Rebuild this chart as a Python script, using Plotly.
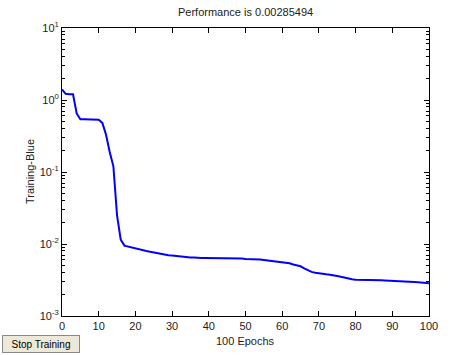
import plotly.graph_objects as go

epochs = list(range(0, 101))
performance = [
    1.40, 1.22, 1.20, 1.20, 0.65, 0.54, 0.54, 0.54, 0.54, 0.54,
    0.53, 0.48, 0.33, 0.19, 0.12, 0.025, 0.0115, 0.0095, 0.0092, 0.0089,
    0.0086, 0.0084, 0.0082, 0.0080, 0.0078, 0.0076, 0.0075, 0.0073, 0.0071, 0.0070,
    0.0069, 0.0068, 0.0067, 0.0066, 0.0066, 0.0065, 0.0065, 0.0064, 0.0064, 0.0064,
    0.0064, 0.0063, 0.0063, 0.0063, 0.0063, 0.0063, 0.0063, 0.0063, 0.0063, 0.0063,
    0.0062, 0.0062, 0.0061, 0.0061, 0.0061, 0.0060, 0.0059, 0.0058, 0.0058, 0.0057,
    0.0056, 0.0055, 0.0054, 0.0052, 0.0051, 0.0049, 0.0046, 0.0043, 0.0041, 0.0040,
    0.0039, 0.00385, 0.0038, 0.00375, 0.0037, 0.0036, 0.0035, 0.0034, 0.0033, 0.00325,
    0.0032, 0.0032, 0.00318, 0.00316, 0.00315, 0.00315, 0.00314, 0.00313, 0.00312, 0.00311,
    0.0031, 0.00308, 0.00305, 0.00302, 0.003, 0.003, 0.00297, 0.00294, 0.0029, 0.00288,
    0.00285,
]

x_ticks = [0, 10, 20, 30, 40, 50, 60, 70, 80, 90, 100]
y_ticks = [1e-3, 1e-2, 1e-1, 1, 10]
y_tick_text = ["10<sup>-3</sup>", "10<sup>-2</sup>", "10<sup>-1</sup>", "10<sup>0</sup>", "10<sup>1</sup>"]
y_minor = [m * 10 ** e for e in (-3, -2, -1, 0) for m in range(2, 10)]

title_text = "Performance is 0.00285494"
x_label = "100 Epochs"
y_label = "Training-Blue"
button_text = "Stop Training"

font = "Liberation Sans, Arial, sans-serif"

fig = go.Figure()
fig.add_trace(go.Scatter(x=epochs, y=performance, mode="lines",
                         line=dict(color="#0000ff", width=2), showlegend=False))

fig.update_layout(
    width=474, height=355,
    margin=dict(l=62, r=45, t=28, b=39),
    paper_bgcolor="white", plot_bgcolor="white",
    font=dict(family=font, size=11, color="#222"),
    xaxis=dict(range=[0, 100], tickmode="array", tickvals=x_ticks,
               ticks="inside", ticklen=5, tickcolor="black", tickwidth=1,
               showline=True, linecolor="black", linewidth=1, mirror="ticks",
               showgrid=False, zeroline=False, tickfont=dict(size=11, family=font)),
    yaxis=dict(type="log", range=[-3, 1], tickmode="array", tickvals=y_ticks,
               ticktext=y_tick_text,
               ticks="inside", ticklen=5, tickcolor="black", tickwidth=1,
               minor=dict(tickmode="array", tickvals=y_minor, ticks="inside",
                          ticklen=3, tickcolor="black", showgrid=False),
               showline=True, linecolor="black", linewidth=1, mirror="ticks",
               showgrid=False, zeroline=False, tickfont=dict(size=11, family=font)),
    annotations=[
        dict(text=title_text, xref="paper", yref="paper", x=0.5, y=1, yshift=16,
             showarrow=False, font=dict(size=11, family=font, color="#222"),
             xanchor="center", yanchor="middle"),
        dict(text=x_label, xref="paper", yref="paper", x=0.5, y=0, yshift=-25,
             showarrow=False, font=dict(size=11, family=font, color="#222"),
             xanchor="center", yanchor="middle"),
        dict(text=y_label, xref="paper", yref="paper", x=0, y=0.5, xshift=-32,
             showarrow=False, textangle=-90, font=dict(size=11, family=font, color="#222"),
             xanchor="center", yanchor="middle"),
        dict(text=button_text, xref="paper", yref="paper", x=0, y=0,
             xshift=-21, yshift=-28, width=74, height=14,
             showarrow=False, font=dict(size=10, family=font, color="black"),
             bgcolor="#ece9d8", bordercolor="#8a8a8a", borderwidth=1, borderpad=1,
             xanchor="center", yanchor="middle"),
    ],
)

fig.write_html("out.html")
